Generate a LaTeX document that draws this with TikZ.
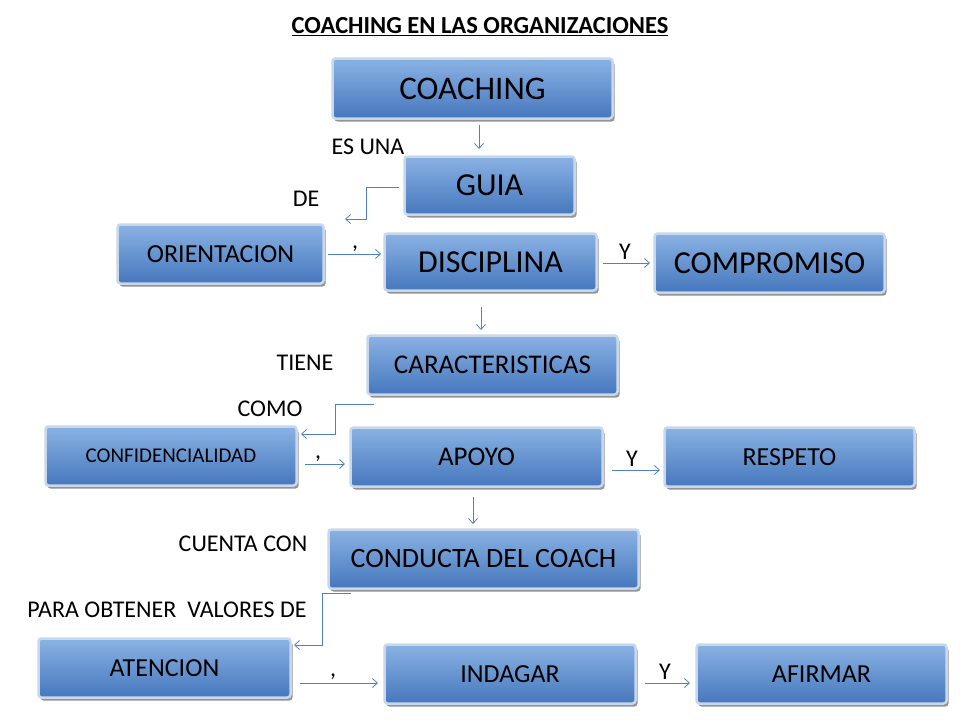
\documentclass[tikz,border=0pt]{standalone}
\usepackage{fontspec}
\setmainfont{Carlito}
\usetikzlibrary{shadows,arrows.meta}
\definecolor{arr}{HTML}{4F81BD}
\definecolor{btop}{HTML}{8AB2E4}
\definecolor{bbot}{HTML}{4677BD}
\definecolor{bord}{HTML}{C9D7EB}
\tikzset{
 box/.style={draw=bord,line width=2.5pt,rounded corners=3pt,top color=btop,bottom color=bbot,
   drop shadow={shadow xshift=2pt,shadow yshift=-3pt,fill=black!70,opacity=.6},
   inner sep=0pt,text=black},
 con/.style={draw=arr,line width=0.8pt,-{Straight Barb[length=5pt,width=9pt]}},
 lab/.style={font=\fontsize{24}{26}\selectfont,inner sep=0pt}
}
\begin{document}
\begin{tikzpicture}[x=1pt,y=-1pt]
\useasboundingbox[fill=white] (0,0) rectangle (960,720);
\newcommand\bx[7]{\node[box,minimum width=#4-#2-3pt,minimum height=#5-#3-3pt,font=\fontsize{#7}{#7}\selectfont] (#1) at ({(#2+#4)/2},{(#3+#5)/2}) {#6};}
\bx{coach}{331}{57}{614}{120}{COACHING}{33}
\bx{guia}{403}{155}{576}{216}{GUIA}{32}
\bx{orient}{116}{223}{325}{285}{ORIENTACION}{26}
\bx{disc}{383}{232}{598}{292}{DISCIPLINA}{32}
\bx{comp}{653}{232}{886}{294}{COMPROMISO}{32}
\bx{carac}{366}{334}{619}{396}{CARACTERISTICAS}{27}
\bx{conf}{44}{425}{298}{487}{CONFIDENCIALIDAD}{21}
\bx{apoyo}{349}{426}{604}{488}{APOYO}{27}
\bx{resp}{663}{426}{916}{488}{RESPETO}{26}
\bx{cond}{327}{528}{640}{590}{CONDUCTA DEL COACH}{28}
\bx{aten}{37}{637}{292}{699}{ATENCION}{26}
\bx{indag}{383}{643}{637}{705}{INDAGAR}{26}
\bx{afir}{695}{643}{948}{705}{AFIRMAR}{26}
\node[font=\bfseries\fontsize{24.5}{26}\selectfont,inner sep=0pt] (title) at (480,27) {\underline{COACHING EN LAS ORGANIZACIONES}};
\node[lab] (l1) at (368,147) {ES UNA};
\node[lab] (l2) at (306,199) {DE};
\node[lab] (l3) at (305,363) {TIENE};
\node[lab] (l4) at (270,409) {COMO};
\node[lab] (l5) at (243,544) {CUENTA CON};
\node[lab] (l6) at (167,610) {PARA OBTENER\ \ VALORES DE};
\node[lab] (c1) at (355,249) {,};
\node[lab] (c2) at (318,459) {,};
\node[lab] (c3) at (333,677) {,};
\node[lab] (y1) at (625,252) {Y};
\node[lab] (y2) at (632,459) {Y};
\node[lab] (y3) at (665,672) {Y};
\foreach \n/\x/\y in {a1/479/125,a2/479/149,b1/399/187,b2/345/219,c1/328/254,c2/381/254,
  d1/603/263,d2/650/263,e1/481/307,e2/481/330,f1/374/404,f2/301/434,g1/305/464,g2/345/464,
  h1/612/470,h2/660/470,i1/473/497,i2/473/524,j1/351/593,j2/294/645,k1/300/683,k2/378/683,
  m1/645/683,m2/690/683}
  \coordinate (\n) at (\x,\y);
\draw[con] (a1) -- (a2);
\draw[con] (b1) -- (366,187) |- (b2);
\draw[con] (c1) -- (c2);
\draw[con] (d1) -- (d2);
\draw[con] (e1) -- (e2);
\draw[con] (f1) -- (335,404) |- (f2);
\draw[con] (g1) -- (g2);
\draw[con] (h1) -- (h2);
\draw[con] (i1) -- (i2);
\draw[con] (j1) -- (322,593) |- (j2);
\draw[con] (k1) -- (k2);
\draw[con] (m1) -- (m2);
\end{tikzpicture}
\end{document}
